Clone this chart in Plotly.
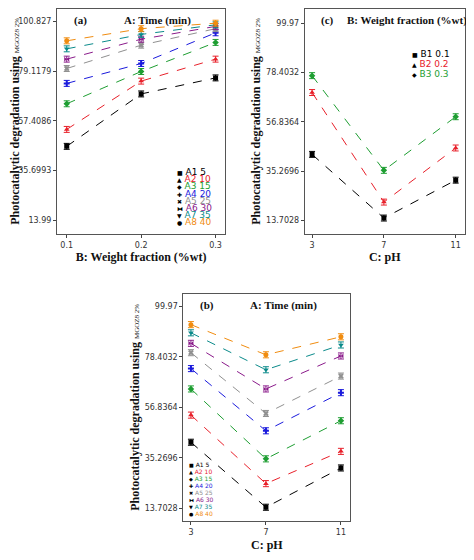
import plotly.graph_objects as go

# panel (a): degradation vs weight fraction, one series per time level
wt = [0.1, 0.2, 0.3]
time_names = ["A1 5", "A2 10", "A3 15", "A4 20", "A5 25", "A6 30", "A7 35", "A8 40"]
a_vals = [
    [46.3, 69.2, 76.2],
    [53.7, 74.8, 84.4],
    [64.9, 79.0, 91.7],
    [73.8, 82.5, 95.9],
    [80.3, 90.5, 97.7],
    [84.4, 93.1, 98.7],
    [88.9, 95.2, 99.4],
    [92.4, 97.7, 100.1],
]

# panel (b): degradation vs pH, one series per time level
ph = [3, 7, 11]
b_vals = [
    [41.9, 14.1, 30.9],
    [53.5, 24.2, 38.0],
    [64.7, 34.8, 51.1],
    [73.4, 46.8, 63.1],
    [80.2, 54.2, 70.2],
    [84.2, 64.7, 78.8],
    [88.7, 72.9, 83.5],
    [92.2, 79.3, 87.0],
]

# panel (c): degradation vs pH, one series per weight fraction
wt_names = ["B1 0.1", "B2 0.2", "B3 0.3"]
c_vals = [
    [42.6, 14.7, 31.3],
    [69.7, 21.7, 45.4],
    [77.1, 35.6, 59.1],
]

a_ticks = [13.99, 35.6993, 57.4086, 79.1179, 100.827]
bc_ticks = [13.7028, 35.2696, 56.8364, 78.4032, 99.97]

colors = ["#000000", "#e8202a", "#1e9e32", "#1a1adc", "#909090", "#8a1a8a", "#0a8a8a", "#f08c10"]
symbols = ["square", "triangle-up", "diamond", "cross", "x", "bowtie", "triangle-down", "circle"]

fig = go.Figure()

def add_series(xs, ys, name, col, sym, xa, ya):
    fig.add_trace(go.Scatter(
        x=xs, y=ys, name=name, mode="lines+markers", xaxis=xa, yaxis=ya,
        line=dict(color=col, dash="dash", width=1),
        marker=dict(color=col, symbol=sym, size=5),
        error_y=dict(type="constant", value=1.3, color=col, thickness=1, width=3),
        showlegend=False))

for i, name in enumerate(time_names):
    add_series(wt, a_vals[i], name, colors[i], symbols[i], "x", "y")
    add_series(ph, b_vals[i], name, colors[i], symbols[i], "x3", "y3")
for i, name in enumerate(wt_names):
    add_series(ph, c_vals[i], name, colors[i], symbols[i], "x2", "y2")

tickf = dict(size=8, family="DejaVu Sans", color="#333")
titlef = dict(size=12, family="Liberation Serif", color="#111")
ax = dict(showline=True, mirror=True, linecolor="#555", linewidth=1.2, ticks="outside",
          ticklen=3, showgrid=False, zeroline=False, tickfont=tickf)

ytitle = "<b>Photocatalytic degradation using </b><span style='font-size:7px'>MGOZ8 2%</span>"

# page has an 8px body margin, so keep the figure inside the window
fig.update_layout(
    width=458, height=544, margin=dict(l=0, r=0, t=0, b=0),
    plot_bgcolor="white", paper_bgcolor="white",
    xaxis=dict(ax, domain=[0.081, 0.459], anchor="y", range=[0.087, 0.313],
               tickvals=wt, ticktext=["0.1", "0.2", "0.3"],
               title=dict(text="<b>B: Weight fraction (%wt)</b>", font=titlef, standoff=4)),
    yaxis=dict(ax, domain=[0.586, 1.0], anchor="x", range=[8.1, 106.3], tickvals=a_ticks,
               ticktext=[str(t) for t in a_ticks],
               title=dict(text=ytitle, font=titlef, standoff=2)),
    xaxis2=dict(ax, domain=[0.638, 0.997], anchor="y2", range=[2.6, 11.5], tickvals=ph,
                title=dict(text="<b>C: pH</b>", font=titlef, standoff=4)),
    yaxis2=dict(ax, domain=[0.586, 1.0], anchor="x2", range=[7.8, 106.3], tickvals=bc_ticks,
                ticktext=[str(t) for t in bc_ticks],
                title=dict(text=ytitle, font=titlef, standoff=2)),
    xaxis3=dict(ax, domain=[0.365, 0.740], anchor="y3", range=[2.6, 11.5], tickvals=ph,
                title=dict(text="<b>C: pH</b>", font=titlef, standoff=6)),
    yaxis3=dict(ax, domain=[0.057, 0.476], anchor="x3", range=[8.2, 105.5], tickvals=bc_ticks,
                ticktext=[str(t) for t in bc_ticks],
                title=dict(text=ytitle, font=titlef, standoff=2)),
)

headf = dict(size=11, family="Liberation Serif", color="#111")
for xr, yr, lab, head, hx in [("x domain", "y domain", "(a)", "A: Time (min)", 0.6),
                              ("x2 domain", "y2 domain", "(c)", "B: Weight fraction (%wt)", 0.64),
                              ("x3 domain", "y3 domain", "(b)", "A: Time (min)", 0.6)]:
    fig.add_annotation(xref=xr, yref=yr, x=0.14, y=0.985, text="<b>" + lab + "</b>",
                       showarrow=False, font=headf, xanchor="center", yanchor="top")
    fig.add_annotation(xref=xr, yref=yr, x=hx, y=0.985, text="<b>" + head + "</b>",
                       showarrow=False, font=headf, xanchor="center", yanchor="top")

marks = ["■", "▲", "◆", "✚", "✖", "⧓", "▼", "●"]
# legend text blocks
for i, name in enumerate(time_names):
    fig.add_annotation(xref="x domain", yref="y domain", x=0.70, y=0.275 - i * 0.032,
                       text="<span style='color:black;font-size:6px'>" + marks[i] + "</span> " + name,
                       showarrow=False, xanchor="left", yanchor="middle",
                       font=dict(size=9, family="DejaVu Sans", color=colors[i]))
    fig.add_annotation(xref="x3 domain", yref="y3 domain", x=0.02, y=0.25 - i * 0.031,
                       text="<span style='color:black;font-size:5px'>" + marks[i] + "</span> " + name,
                       showarrow=False, xanchor="left", yanchor="middle",
                       font=dict(size=6, family="DejaVu Sans", color=colors[i]))
for i, name in enumerate(wt_names):
    fig.add_annotation(xref="x2 domain", yref="y2 domain", x=0.66, y=0.80 - i * 0.045,
                       text="<span style='color:black;font-size:6px'>" + marks[i] + "</span> " + name,
                       showarrow=False, xanchor="left", yanchor="middle",
                       font=dict(size=9, family="DejaVu Sans", color=colors[i]))

fig.write_html("out.html")
